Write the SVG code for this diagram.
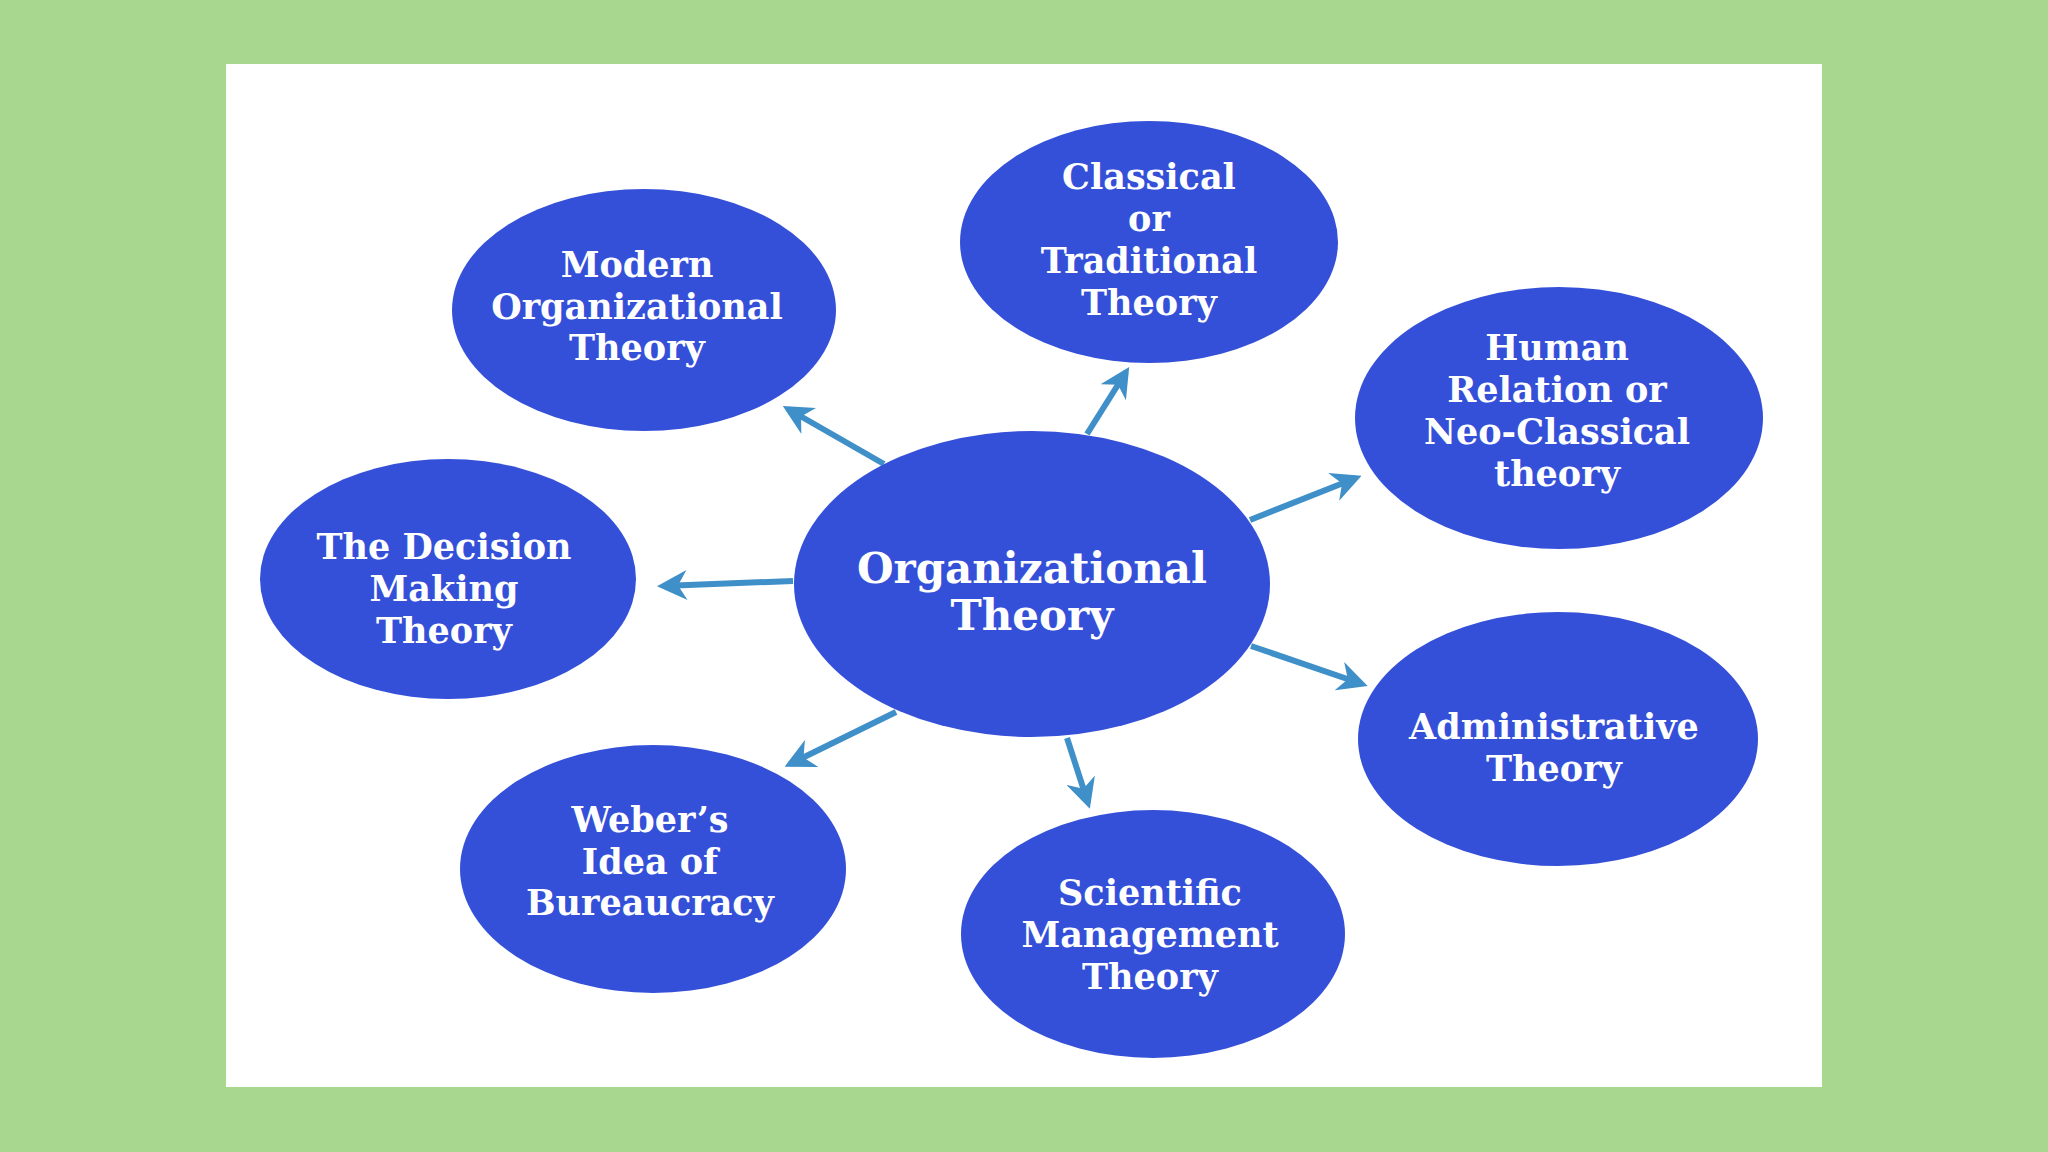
<svg xmlns="http://www.w3.org/2000/svg" width="2048" height="1152" viewBox="0 0 2048 1152">
<defs>
<style>
.n{fill:#3550d8}
.t{fill:#fff;font-family:"DejaVu Serif","Liberation Serif",serif;font-weight:bold;font-size:35px;text-anchor:middle;dominant-baseline:central}
.c{font-size:42px}
.a{stroke:#3f8fc9;stroke-width:6;fill:none;marker-end:url(#ah)}
</style>
<marker id="ah" viewBox="0 0 10 10" refX="8" refY="5" markerWidth="5" markerHeight="5" orient="auto" markerUnits="strokeWidth">
<path d="M0,0 L10,5 L0,10 L3,5 z" fill="#3f8fc9"/>
</marker>
</defs>
<rect width="2048" height="1152" fill="#a8d88f"/>
<rect x="226" y="64" width="1596" height="1023" fill="#fff"/>
<g id="connectors">
<line class="a" x1="884" y1="464" x2="788" y2="409"/>
<line class="a" x1="1087" y1="434" x2="1126" y2="372"/>
<line class="a" x1="1250" y1="520" x2="1356" y2="478"/>
<line class="a" x1="793" y1="581" x2="663" y2="586"/>
<line class="a" x1="1251" y1="646" x2="1362" y2="684"/>
<line class="a" x1="896" y1="712" x2="790" y2="764"/>
<line class="a" x1="1067" y1="738" x2="1088" y2="803"/>
</g>
<g id="center"><ellipse class="n" cx="1032" cy="584" rx="238" ry="153"/>
<text class="t c" x="1032"><tspan x="1032" y="568">Organizational</tspan><tspan x="1032" y="615">Theory</tspan></text></g>
<g id="classical"><ellipse class="n" cx="1149" cy="242" rx="189" ry="121"/>
<text class="t"><tspan x="1149" y="176">Classical</tspan><tspan x="1149" y="218">or</tspan><tspan x="1149" y="260">Traditional</tspan><tspan x="1149" y="302">Theory</tspan></text></g>
<g id="modern"><ellipse class="n" cx="644" cy="310" rx="192" ry="121"/>
<text class="t"><tspan x="637" y="264">Modern</tspan><tspan x="637" y="306">Organizational</tspan><tspan x="637" y="347">Theory</tspan></text></g>
<g id="human"><ellipse class="n" cx="1559" cy="418" rx="204" ry="131"/>
<text class="t"><tspan x="1557" y="347">Human</tspan><tspan x="1557" y="389">Relation or</tspan><tspan x="1557" y="431">Neo-Classical</tspan><tspan x="1557" y="473">theory</tspan></text></g>
<g id="decision"><ellipse class="n" cx="448" cy="579" rx="188" ry="120"/>
<text class="t"><tspan x="444" y="546">The Decision</tspan><tspan x="444" y="588">Making</tspan><tspan x="444" y="630">Theory</tspan></text></g>
<g id="admin"><ellipse class="n" cx="1558" cy="739" rx="200" ry="127"/>
<text class="t"><tspan x="1554" y="726">Administrative</tspan><tspan x="1554" y="768">Theory</tspan></text></g>
<g id="weber"><ellipse class="n" cx="653" cy="869" rx="193" ry="124"/>
<text class="t"><tspan x="650" y="819">Weber’s</tspan><tspan x="650" y="861">Idea of</tspan><tspan x="650" y="902">Bureaucracy</tspan></text></g>
<g id="scientific"><ellipse class="n" cx="1153" cy="934" rx="192" ry="124"/>
<text class="t"><tspan x="1150" y="892">Scientific</tspan><tspan x="1150" y="934">Management</tspan><tspan x="1150" y="976">Theory</tspan></text></g>
</svg>
